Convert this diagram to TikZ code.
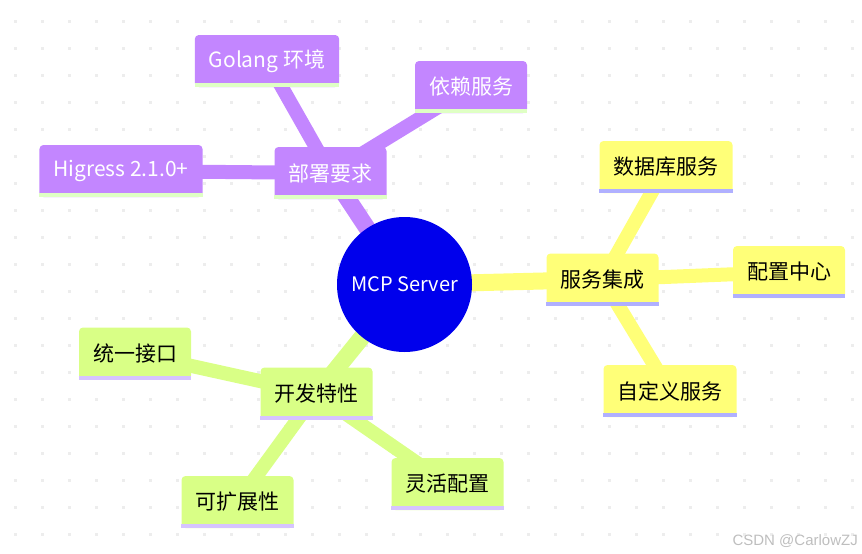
\documentclass[tikz,border=0pt]{standalone}
\usepackage{fontspec}
\setmainfont{Noto Sans CJK SC}
\newfontfamily\markfont{Liberation Sans}
\usetikzlibrary{backgrounds}
\definecolor{rootblue}{HTML}{0000EC}
\definecolor{purp}{HTML}{C386FF}
\definecolor{yell}{HTML}{FFFF78}
\definecolor{gren}{HTML}{D9FF86}
\definecolor{purpline}{HTML}{DFFFC4}
\definecolor{yellline}{HTML}{B0B0FF}
\definecolor{grenline}{HTML}{D6C4FF}
\definecolor{dotgrey}{HTML}{EDEDED}
\definecolor{markgrey}{HTML}{BEBEBE}

\begin{document}
\begin{tikzpicture}[x=1pt,y=-1pt,
   topic/.style={fill=#1,rounded corners=4pt,minimum height=52pt,
                 inner xsep=14pt,inner ysep=0pt,
                 font=\fontsize{21}{21}\selectfont},
   root/.style={circle,fill=rootblue,text=white,minimum size=135pt,inner sep=0pt,
                font=\fontsize{20}{20}\selectfont},
   lvl0/.style={line width=17pt,draw=#1},
   lvl1/.style={line width=14pt,draw=#1}
 ]
  \useasboundingbox (0,0) rectangle (862,554);
  % central node and branches
  \node[root] (mcp) at (404.5,284.5) {MCP Server};
  \node[topic=purp,text=white] (deploy) at (330.5,173) {部署要求};
  \node[topic=purp,text=white] (golang) at (267,61) {Golang 环境};
  \node[topic=purp,text=white] (deps) at (471,87) {依赖服务};
  \node[topic=purp,text=white] (higress) at (121,171) {Higress 2.1.0+};
  \node[topic=yell] (integ) at (602.5,279.5) {服务集成};
  \node[topic=yell] (db) at (666,167) {数据库服务};
  \node[topic=yell] (conf) at (789,272) {配置中心};
  \node[topic=yell] (custom) at (670,391) {自定义服务};
  \node[topic=gren] (dev) at (316.5,393.5) {开发特性};
  \node[topic=gren] (api) at (135,353.5) {统一接口};
  \node[topic=gren] (ext) at (237.5,502) {可扩展性};
  \node[topic=gren] (flex) at (447.5,484) {灵活配置};
  % bottom stripes
  \foreach \n/\c in {deploy/purpline,golang/purpline,deps/purpline,higress/purpline,
                     integ/yellline,db/yellline,conf/yellline,custom/yellline,
                     dev/grenline,api/grenline,ext/grenline,flex/grenline}
    \fill[\c] (\n.south west) rectangle ([yshift=4pt]\n.south east);
  \node[font=\markfont\fontsize{15}{15}\selectfont,text=markgrey,anchor=base east,inner sep=0pt]
    (mark) at (858,545) {CSDN @CarlowZJ};
  \begin{scope}[on background layer]
    % dotted backdrop
    \foreach \i in {0,...,31}
      \foreach \j in {0,...,19}
        \fill[dotgrey] (13.5+27*\i,19.5+27*\j) rectangle ++(3,3);
    \draw[lvl0=purp] (mcp.center) -- (deploy.center);
    \draw[lvl0=yell] (mcp.center) -- (integ.center);
    \draw[lvl0=gren] (mcp.center) -- (dev.center);
    \draw[lvl1=purp] (deploy.center) -- (golang.center);
    \draw[lvl1=purp] (deploy.center) -- (deps.center);
    \draw[lvl1=purp] (deploy.center) -- (higress.center);
    \draw[lvl1=yell] (integ.center) -- (db.center);
    \draw[lvl1=yell] (integ.center) -- (conf.center);
    \draw[lvl1=yell] (integ.center) -- (custom.center);
    \draw[lvl1=gren] (dev.center) -- (api.center);
    \draw[lvl1=gren] (dev.center) -- (ext.center);
    \draw[lvl1=gren] (dev.center) -- (flex.center);
  \end{scope}
\end{tikzpicture}
\end{document}
